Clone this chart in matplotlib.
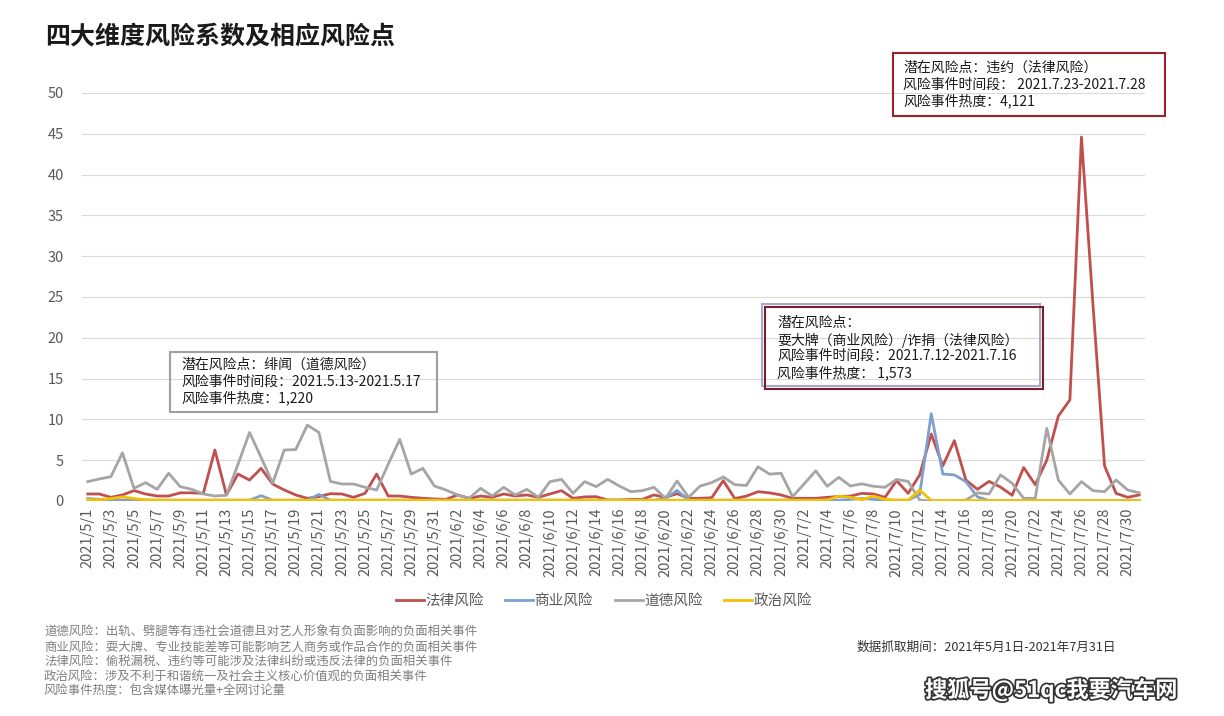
import numpy as np
import pandas as pd
import matplotlib
matplotlib.use("Agg")
from matplotlib import pyplot as plt
import matplotlib.patches as mpatches
import matplotlib.patheffects as pe

plt.rcParams['font.family'] = ['Noto Sans CJK SC', 'DejaVu Sans']

# --- data -------------------------------------------------------------
dates = pd.date_range("2021-05-01", "2021-07-31", freq="D")
date_labels = [f"{d.year}/{d.month}/{d.day}" for d in dates]

legal = [0.86, 0.86, 0.45, 0.74, 1.27, 0.86, 0.61, 0.61, 1.0, 1.0,
         0.94, 6.25, 0.74, 3.3, 2.57, 4.0, 2.08, 1.35, 0.74, 0.33,
         0.53, 0.9, 0.86, 0.45, 0.94, 3.3, 0.61, 0.61, 0.45, 0.33,
         0.25, 0.2, 0.74, 0.33, 0.61, 0.45, 0.86, 0.61, 0.74, 0.45,
         0.86, 1.27, 0.33, 0.5, 0.53, 0.12, 0.12, 0.2, 0.2, 0.74,
         0.45, 0.9, 0.33, 0.33, 0.4, 2.5, 0.3, 0.6, 1.14, 1.0,
         0.74, 0.33, 0.33, 0.33, 0.45, 0.55, 0.6, 0.94, 0.86, 0.45,
         2.5, 0.94, 3.2, 8.2, 4.3, 7.4, 2.57, 1.43, 2.4, 1.7,
         0.7, 4.1, 2.0, 5.0, 10.4, 12.4, 44.6, 24.0, 4.3, 0.94,
         0.45, 0.74]

business = [0.3, 0.2, 0.1, 0.1, 0.1, 0.1, 0.1, 0.1, 0.1, 0.1,
            0.1, 0.1, 0.1, 0.1, 0.1, 0.65, 0.1, 0.1, 0.1, 0.1,
            0.8, 0.1, 0.1, 0.1, 0.1, 0.1, 0.1, 0.1, 0.1, 0.1,
            0.1, 0.1, 0.1, 0.1, 0.1, 0.1, 0.1, 0.1, 0.1, 0.1,
            0.1, 0.1, 0.1, 0.1, 0.1, 0.1, 0.1, 0.1, 0.1, 0.1,
            0.3, 1.3, 0.1, 0.1, 0.1, 0.1, 0.1, 0.1, 0.1, 0.1,
            0.1, 0.1, 0.1, 0.1, 0.1, 0.1, 0.2, 0.3, 0.2, 0.1,
            0.1, 0.1, 0.8, 10.7, 3.3, 3.2, 2.37, 0.5, 0.05, 0.05,
            0.05, 0.05, 0.05, 0.05, 0.05, 0.05, 0.05, 0.05, 0.05, 0.05,
            0.05, 0.05]

moral = [2.37, 2.7, 2.98, 5.9, 1.55, 2.25, 1.43, 3.4, 1.76, 1.43,
         0.86, 0.61, 0.7, 4.5, 8.4, 5.35, 2.17, 6.25, 6.3, 9.3,
         8.4, 2.4, 2.08, 2.08, 1.68, 1.35, 4.5, 7.55, 3.3, 4.0,
         1.84, 1.35, 0.74, 0.33, 1.55, 0.61, 1.68, 0.74, 1.43, 0.45,
         2.37, 2.65, 0.94, 2.37, 1.76, 2.65, 1.84, 1.14, 1.27, 1.68,
         0.33, 2.45, 0.45, 1.84, 2.25, 2.95, 2.0, 1.9, 4.2, 3.3,
         3.4, 0.53, 2.1, 3.7, 1.8, 2.9, 1.84, 2.1, 1.8, 1.68,
         2.65, 2.4, 0.1, 0.0, 0.0, 0.0, 0.12, 1.0, 0.86, 3.2,
         2.17, 0.33, 0.33, 8.9, 2.57, 0.86, 2.37, 1.27, 1.14, 2.57,
         1.35, 1.0]

political = [0.15, 0.15, 0.3, 0.5, 0.3, 0.15, 0.1, 0.1, 0.1, 0.1,
             0.1, 0.1, 0.1, 0.1, 0.1, 0.1, 0.1, 0.1, 0.1, 0.1,
             0.1, 0.1, 0.1, 0.1, 0.1, 0.1, 0.1, 0.1, 0.1, 0.1,
             0.1, 0.1, 0.1, 0.1, 0.1, 0.1, 0.1, 0.1, 0.1, 0.1,
             0.1, 0.1, 0.1, 0.1, 0.1, 0.1, 0.1, 0.1, 0.1, 0.1,
             0.1, 0.1, 0.1, 0.1, 0.1, 0.1, 0.1, 0.1, 0.1, 0.1,
             0.1, 0.1, 0.1, 0.1, 0.12, 0.6, 0.45, 0.15, 0.6, 0.2,
             0.1, 0.1, 1.35, 0.05, 0.05, 0.05, 0.05, 0.05, 0.05, 0.05,
             0.05, 0.05, 0.05, 0.05, 0.05, 0.05, 0.05, 0.05, 0.05, 0.05,
             0.05, 0.05]

series_names = ["法律风险", "商业风险", "道德风险", "政治风险"]
series_colors = ["#C0504D", "#7F9FCF", "#A5A5A5", "#F2C200"]
series_values = [legal, business, moral, political]

# --- figure ------------------------------------------------------------
W, H = 1224, 716
fig = plt.figure(figsize=(W / 100, H / 100), dpi=100)


def fx(x):
    return x / W


def fy(y):
    return 1 - y / H


ax = fig.add_axes([fx(82), fy(501), fx(1145) - fx(82), fy(93) - fy(501)])

x = np.arange(len(date_labels))
for name, vals, c in zip(series_names, series_values, series_colors):
    ax.plot(x, vals, color=c, lw=2.0, label=name, solid_joinstyle='round')

ax.set_xlim(-0.5, len(date_labels) - 0.5)
ax.set_ylim(0, 50)
ax.set_yticks(np.arange(0, 51, 5))
ax.set_xticks(x[::2])
ax.set_xticklabels(date_labels[::2], rotation=90)
ax.tick_params(axis='both', length=0, labelsize=10.5, labelcolor='#595959')
ax.tick_params(axis='y', pad=13)
ax.tick_params(axis='x', pad=5)
ax.grid(axis='y', color='#D9D9D9', lw=0.8)
ax.set_axisbelow(True)
for s in ax.spines.values():
    s.set_visible(False)

fig.legend(loc='center', bbox_to_anchor=(fx(604), fy(601)), ncol=4,
           frameon=False, fontsize=10.5, handlelength=1.9, columnspacing=1.5,
           handletextpad=0.1, labelcolor='#595959')

# title
fig.text(fx(45), fy(36), "四大维度风险系数及相应风险点", fontsize=18,
         fontweight='bold', color='#1A1A1A', va='center', ha='left')


# annotation boxes
def box(x0, y0, x1, y1, color, lw=1.5):
    fig.patches.append(mpatches.Rectangle((fx(x0), fy(y1)), fx(x1) - fx(x0),
                                          fy(y0) - fy(y1), transform=fig.transFigure,
                                          fill=False, edgecolor=color, lw=lw))


def lines(x0, ys, texts):
    for yy, t in zip(ys, texts):
        fig.text(fx(x0), fy(yy), t, fontsize=10, color='#1A1A1A', va='center', ha='left')


box(170, 352, 437, 412, '#A0A0A0')
lines(181, [365, 382, 398], ["潜在风险点：绯闻（道德风险）",
                             "风险事件时间段：2021.5.13-2021.5.17",
                             "风险事件热度：1,220"])

box(762, 304, 1040, 386, '#A9A9CC')
box(765, 307, 1043, 389, '#7A1E2E')
lines(777, [323, 340, 356, 373], ["潜在风险点：",
                                  "耍大牌（商业风险）/诈捐（法律风险）",
                                  "风险事件时间段：2021.7.12-2021.7.16",
                                  "风险事件热度： 1,573"])

box(893, 53, 1165, 116, '#A0202A')
lines(903, [68, 85, 101], ["潜在风险点：违约（法律风险）",
                           "风险事件时间段： 2021.7.23-2021.7.28",
                           "风险事件热度：4,121"])

# footnotes
notes = ["道德风险：出轨、劈腿等有违社会道德且对艺人形象有负面影响的负面相关事件",
         "商业风险：耍大牌、专业技能差等可能影响艺人商务或作品合作的负面相关事件",
         "法律风险：偷税漏税、违约等可能涉及法律纠纷或违反法律的负面相关事件",
         "政治风险：涉及不利于和谐统一及社会主义核心价值观的负面相关事件",
         "风险事件热度：包含媒体曝光量+全网讨论量"]
for i, t in enumerate(notes):
    fig.text(fx(44), fy(632 + i * 14.7), t, fontsize=8.9, color='#7F7F7F',
             va='center', ha='left')

fig.text(fx(857), fy(647), "数据抓取期间：2021年5月1日-2021年7月31日", fontsize=9.1,
         color='#333333', va='center', ha='left')

fig.text(fx(925), fy(690), "搜狐号@51qc我要汽车网", fontsize=16, color='white',
         fontweight='bold', va='center', ha='left',
         path_effects=[pe.withStroke(linewidth=2.5, foreground='#333333')])

fig.savefig("out.png", dpi=100)
